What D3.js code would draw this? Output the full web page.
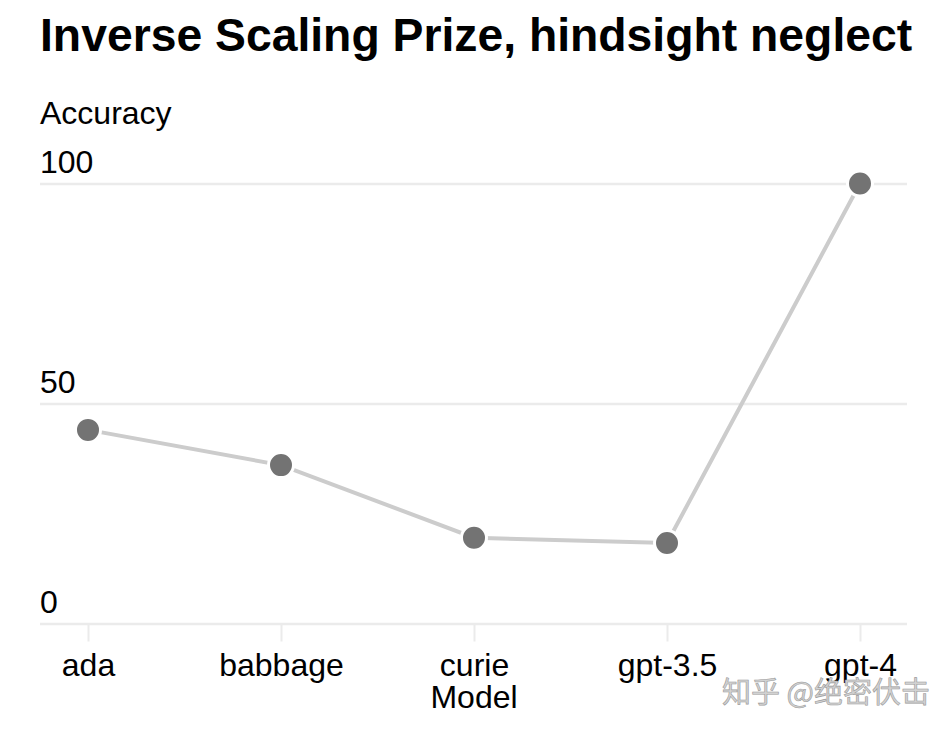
<!DOCTYPE html>
<html>
<head>
<meta charset="utf-8">
<script src="https://cdn.jsdelivr.net/npm/d3@7"></script>
<style>
  html, body { margin: 0; padding: 0; background: #fff; }
  svg { display: block; font-family: "Liberation Sans", Arial, Helvetica, sans-serif; }
</style>
</head>
<body>
<div id="chart"></div>
<script>
const title = "Inverse Scaling Prize, hindsight neglect";
const yLabel = "Accuracy";
const xLabel = "Model";
const models = ["ada", "babbage", "curie", "gpt-3.5", "gpt-4"];
const accuracy = [44, 36, 19.5, 18.3, 100];
const yTicks = [0, 50, 100];
const watermark = "知乎 @绝密伏击";

const W = 952, H = 730;
const svg = d3.select("#chart").append("svg").attr("width", W).attr("height", H);

const x = d3.scalePoint().domain(models).range([88, 860]);
const y = d3.scaleLinear().domain([0, 100]).range([623.5, 183.5]);

// title
svg.append("text").attr("x", 40).attr("y", 51)
  .attr("font-size", 46.3).attr("font-weight", "bold").attr("fill", "#000")
  .text(title);

// y axis label
svg.append("text").attr("x", 40).attr("y", 124)
  .attr("font-size", 32).attr("fill", "#000").text(yLabel);

// gridlines + y tick labels
const yAxis = d3.axisLeft(y).tickValues(yTicks).tickSize(-(907 - 40)).tickFormat(d3.format("d"));
const gy = svg.append("g").attr("transform", "translate(40,0)").call(yAxis);
gy.select(".domain").remove();
gy.selectAll(".tick line").attr("stroke", "#ebebeb").attr("stroke-width", 2.5);
gy.selectAll(".tick text")
  .attr("x", 0).attr("dy", "-0.35em").attr("text-anchor", "start")
  .attr("font-size", 32).attr("fill", "#000")
  .attr("font-family", "Liberation Sans, Arial, sans-serif");

// x axis
const xAxis = d3.axisBottom(x).tickSize(18).tickPadding(12);
const gx = svg.append("g").attr("transform", `translate(0,${y(0)})`).call(xAxis);
gx.select(".domain").remove();
gx.selectAll(".tick line").attr("stroke", "#ebebeb").attr("stroke-width", 2);
gx.selectAll(".tick text")
  .attr("font-size", 32).attr("fill", "#000")
  .attr("font-family", "Liberation Sans, Arial, sans-serif");

svg.append("text").attr("x", x("curie")).attr("y", 708)
  .attr("text-anchor", "middle").attr("font-size", 32).attr("fill", "#000")
  .text(xLabel);

// line
const pts = models.map((m, i) => ({m, v: accuracy[i]}));
svg.append("path").datum(pts)
  .attr("fill", "none").attr("stroke", "#cccccc").attr("stroke-width", 4)
  .attr("d", d3.line().x(d => x(d.m)).y(d => y(d.v)));

// points
svg.selectAll("circle.pt").data(pts).enter().append("circle")
  .attr("class", "pt")
  .attr("cx", d => x(d.m)).attr("cy", d => y(d.v)).attr("r", 12.5)
  .attr("fill", "#737373").attr("stroke", "#fff").attr("stroke-width", 3);

// watermark
svg.append("text").attr("x", 722).attr("y", 703)
  .attr("font-size", 29).attr("fill", "#d2d2d2")
  .attr("stroke", "#9a9a9a").attr("stroke-width", 0.6)
  .attr("font-family", "Noto Sans CJK SC, sans-serif")
  .text(watermark);
</script>
</body>
</html>
